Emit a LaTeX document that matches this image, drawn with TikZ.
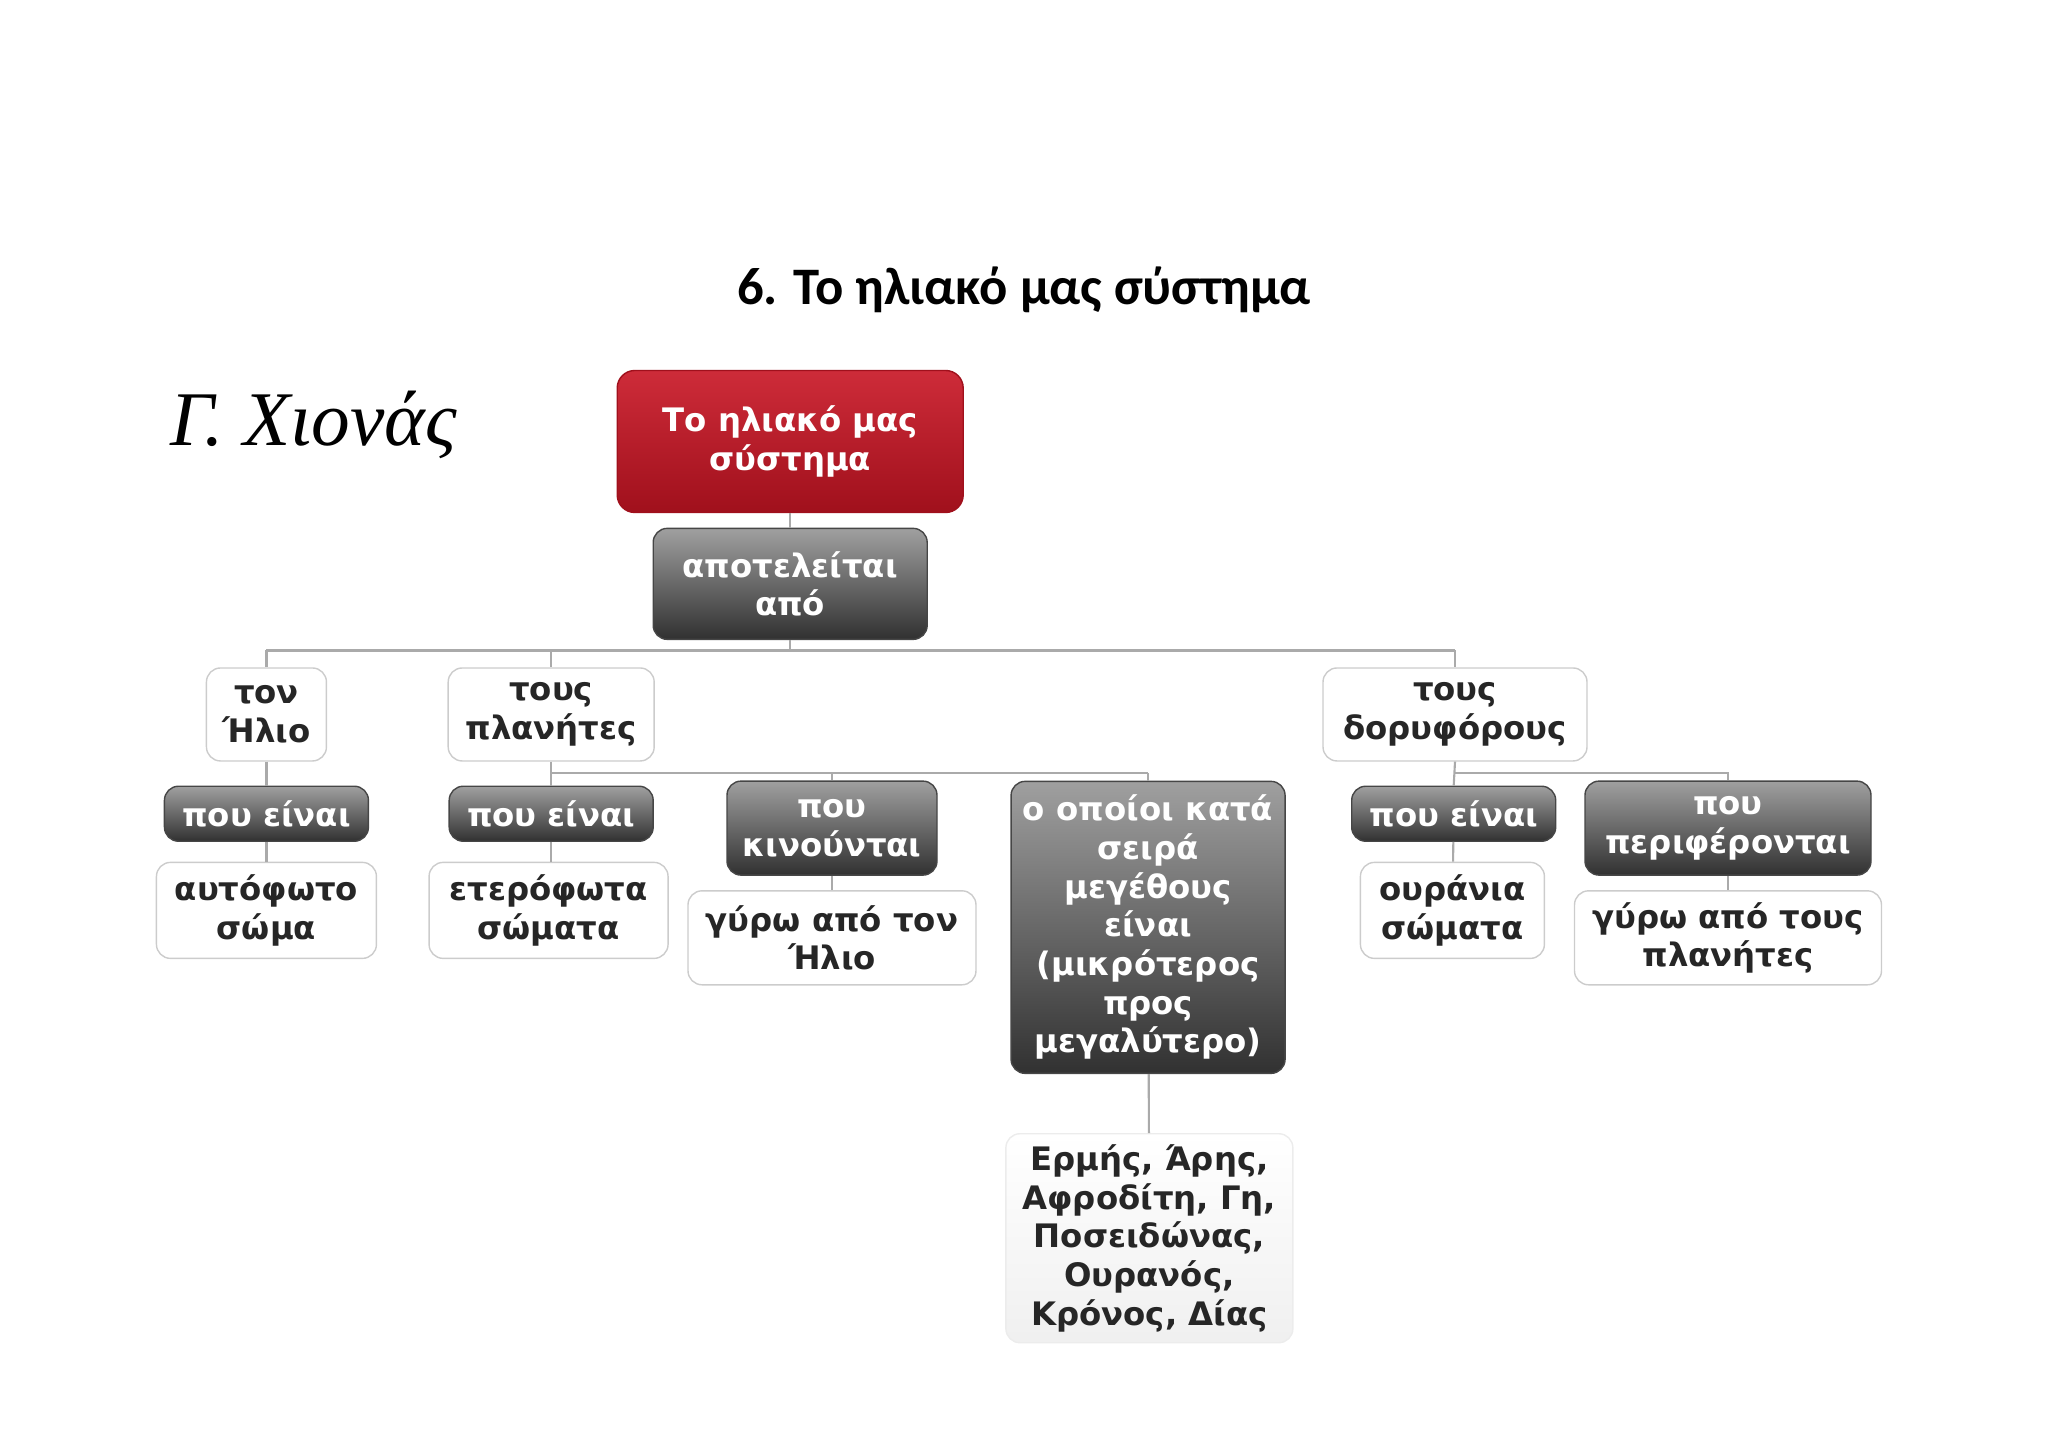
\documentclass[tikz,border=0pt]{standalone}
\usepackage{fontspec}
\setmainfont{DejaVu Sans}
\newfontfamily\titlefont{Carlito}
\newfontfamily\signfont{Liberation Serif}
\usetikzlibrary{positioning}
\definecolor{ssred}{RGB}{200, 20, 35}
\definecolor{ssdark}{RGB}{70, 70, 70}
\definecolor{ssline}{RGB}{170, 170, 170}

\begin{document}
\begin{tikzpicture}[x=0.01306cm, y=-0.01306cm,
    every node/.style={font=\bfseries\fontsize{9.2}{11}\selectfont, align=center, inner sep=2pt},
    rootbox/.style={rounded corners=5pt, draw=ssred!80!black, top color=ssred!90, bottom color=ssred!80!black, text=white},
    darkbox/.style={rounded corners=4pt, draw=ssdark, top color=gray!75, bottom color=ssdark!70!black, text=white},
    whitebox/.style={rounded corners=4pt, draw=gray!40, fill=white, text=black!85},
    conn/.style={ssline, line width=0.6pt}]
  \useasboundingbox (0,0) rectangle (1568,1108);

  % title and signature
  \node[font=\titlefont\bfseries\fontsize{15}{18}\selectfont] (title) at (784,222) {6. Το ηλιακό μας σύστημα};
  \node[font=\signfont\itshape\fontsize{22}{26}\selectfont] (sign) at (240,325) {Γ. Χιονάς};

  % top of the tree
  \node[rootbox, minimum width=265\pgflinewidth*0+3.46cm, minimum height=1.42cm] (root) at (605,338) {Το ηλιακό μας\\σύστημα};
  \node[darkbox, minimum width=2.74cm, minimum height=1.11cm] (apo) at (605,447) {αποτελείται\\από};
  \coordinate (bus) at (0,498);

  % first level
  \node[whitebox, minimum width=1.2cm, minimum height=0.93cm] (ilios) at (204,547) {τον\\Ήλιο};
  \node[whitebox, minimum width=2.06cm, minimum height=0.93cm] (planites) at (422,547) {τους\\πλανήτες};
  \node[whitebox, minimum width=2.64cm, minimum height=0.93cm] (doryf) at (1114,547) {τους\\δορυφόρους};
  \coordinate (bus2) at (0,592);

  % second level
  \node[darkbox, minimum width=2.04cm, minimum height=0.55cm] (einai1) at (204,623) {που είναι};
  \node[darkbox, minimum width=2.04cm, minimum height=0.55cm] (einai2) at (422,623) {που είναι};
  \node[darkbox, minimum width=2.1cm, minimum height=0.94cm] (kinoun) at (637,634) {που\\κινούνται};
  \node[darkbox, minimum width=2.74cm, minimum height=2.92cm] (seira) at (879,710) {ο οποίοι κατά\\σειρά\\μεγέθους\\είναι\\(μικρότερος\\προς\\μεγαλύτερο)};
  \node[darkbox, minimum width=2.04cm, minimum height=0.55cm] (einai3) at (1113,623) {που είναι};
  \node[darkbox, minimum width=2.86cm, minimum height=0.94cm] (perif) at (1323,634) {που\\περιφέρονται};

  % third level
  \node[whitebox, minimum width=2.2cm, minimum height=0.96cm] (aftof) at (204,697) {αυτόφωτο\\σώμα};
  \node[whitebox, minimum width=2.39cm, minimum height=0.96cm] (eterof) at (420,697) {ετερόφωτα\\σώματα};
  \node[whitebox, minimum width=2.88cm, minimum height=0.94cm] (gyroil) at (637,718) {γύρω από τον\\Ήλιο};
  \node[whitebox, minimum width=1.84cm, minimum height=0.96cm] (ouran) at (1112,697) {ουράνια\\σώματα};
  \node[whitebox, minimum width=3.07cm, minimum height=0.94cm] (gyropl) at (1323,718) {γύρω από τους\\πλανήτες};
  \node[whitebox, draw=gray!15, top color=white, bottom color=gray!12, minimum width=2.87cm, minimum height=2.09cm] (names) at (880,948) {Ερμής, Άρης,\\Αφροδίτη, Γη,\\Ποσειδώνας,\\Ουρανός,\\Κρόνος, Δίας};

  % connectors
  \draw[conn] (root.south) -- (apo.north);
  \draw[conn] (apo.south) -- (apo.south |- bus);
  \draw[conn] (ilios.north |- bus) -- (doryf.north |- bus);
  \foreach \n in {ilios, planites, doryf}
    \draw[conn] (\n.north |- bus) -- (\n.north);
  \draw[conn] (planites.south) -- (einai2.north);
  \draw[conn] (planites.south |- bus2) -- (seira.north |- bus2);
  \foreach \n in {kinoun, seira}
    \draw[conn] (\n.north |- bus2) -- (\n.north);
  \draw[conn] (doryf.south) -- (einai3.north);
  \draw[conn] (doryf.south |- bus2) -- (perif.north |- bus2) -- (perif.north);
  \draw[conn] (ilios) -- (einai1);
  \draw[conn] (einai1) -- (aftof);
  \draw[conn] (einai2.south) -- (eterof.north -| einai2.south);
  \draw[conn] (kinoun) -- (gyroil);
  \draw[conn] (seira) -- (names);
  \draw[conn] (einai3) -- (ouran);
  \draw[conn] (perif) -- (gyropl);
\end{tikzpicture}
\end{document}
